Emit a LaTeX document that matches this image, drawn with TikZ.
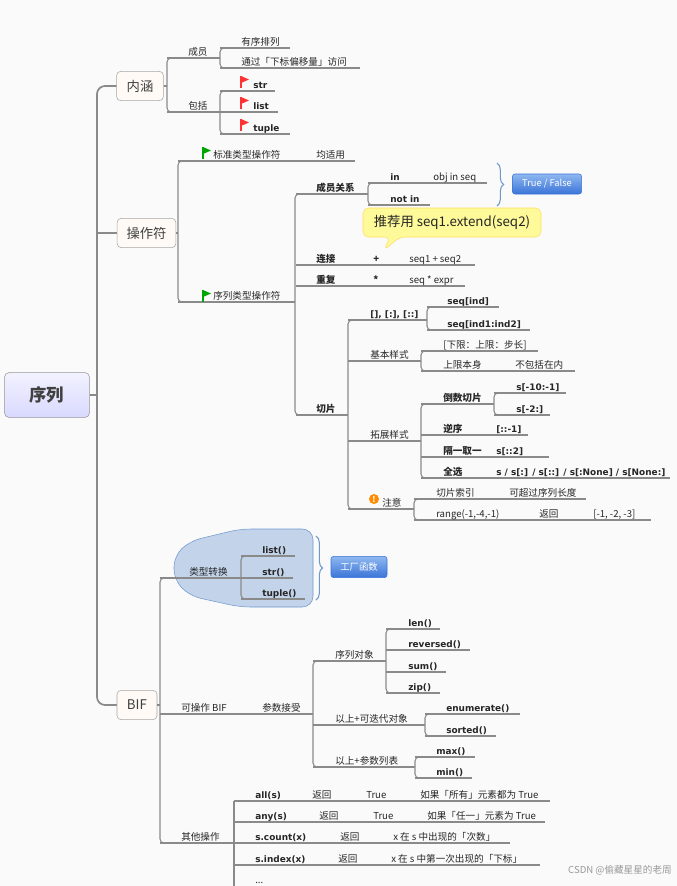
\documentclass[tikz,border=0pt]{standalone}
\usepackage{fontspec}
\setmainfont{Noto Sans CJK SC}
\newfontfamily\vb{DejaVu Sans}
\usetikzlibrary{decorations.pathreplacing,shapes.geometric}
\definecolor{ln}{HTML}{8A8A8A}
\definecolor{blobf}{HTML}{B9CDE8}
\definecolor{blobd}{HTML}{6F98CC}
\definecolor{bt1}{HTML}{8FB8F0}
\definecolor{bt2}{HTML}{3A74D8}
\tikzset{
 ln/.style={draw=ln,line width=0.8pt},
 txt/.style={inner sep=0pt,font=\fontsize{7.2}{8}\selectfont,text=black!85},
 bt/.style={txt,font=\fontsize{6.7}{8}\selectfont\vb\bfseries},
 mainbox/.style={draw=black!35,fill=orange!4,rounded corners=3pt,font=\fontsize{10}{12}\selectfont,text=black!75,minimum height=22pt,inner sep=0pt},
 bluebox/.style={rounded corners=2pt,top color=bt1,bottom color=bt2,draw=bt2,text=white,font=\fontsize{7}{8}\selectfont\itshape,inner sep=0pt},
}
\newcommand\lb[7][txt]{\draw[ln] (#3,#5) -- (#4,#5); \node[#1,anchor=base west] (#2) at (#6,#5-3) {#7};}
\newcommand\tx[5][txt]{\node[#1,anchor=base west] (#2) at (#3,#4-3) {#5};}
\newcommand\brk[3]{\draw[ln,rounded corners=3pt] (#1+6,#2) -- (#1,#2) -- (#1,#3) -- (#1+6,#3);}
\newcommand\flag[3]{\fill[#3] (#1,#2) -- (#1+8,#2+3.5) -- (#1,#2+7) -- cycle; \draw[#3,line width=0.8pt] (#1,#2) -- (#1,#2+12);}
\begin{document}
\begin{tikzpicture}[x=0.75pt,y=-0.75pt]
\useasboundingbox[fill=black!2] (0,0) rectangle (677,886);
% trunk
\draw[ln,line width=1.3pt,rounded corners=6pt] (117,86) -- (97,86) -- (97,705) -- (117,705);
\draw[ln,line width=1.3pt] (90,395) -- (97,395) (97,233) -- (117,233);
\node[draw=black!40,rounded corners=4pt,top color=blue!5,bottom color=blue!15,minimum width=64pt,minimum height=34pt,font=\fontsize{13}{14}\selectfont\bfseries,text=black!75] (root) at (47,395) {序列};
\node[mainbox,minimum width=35pt] (neihan) at (140,86) {内涵};
\node[mainbox,minimum width=44pt] (czf) at (146.5,233) {操作符};
\node[mainbox,minimum width=30pt] (bif) at (137,705) {BIF};
% 内涵
\draw[ln] (neihan.east) -- (167,86);
\brk{167}{58}{112}
\lb{cy}{167}{220}{58}{188}{成员}
\lb{bk}{167}{278}{112}{188}{包括}
\brk{220}{48}{68}
\lb{yx}{220}{290}{48}{241}{有序排列}
\lb{tg}{220}{360}{68}{241}{通过「下标偏移量」访问}
\brk{220}{91}{134}
\lb[bt]{str}{220}{275}{91}{253}{str}
\lb[bt]{list}{220}{278}{112}{253}{list}
\lb[bt]{tuple}{220}{290}{134}{253}{tuple}
\flag{241}{76}{red!80}\flag{241}{97}{red!80}\flag{241}{119}{red!80}
% 操作符
\draw[ln] (czf.east) -- (178,233);
\brk{178}{161}{302}
\lb{bz}{178}{355}{161}{213}{标准类型操作符}
\tx{jsy}{316}{161}{均适用}
\lb{xl}{178}{295}{302}{213}{序列类型操作符}
\flag{203}{147}{green!65!black}\flag{203}{290}{green!65!black}
\brk{295}{194}{415}
\lb{cygx}{296}{368}{194}{316}{\bfseries 成员关系}
\lb{lj}{296}{475}{265}{316}{\bfseries 连接}
\lb{cf}{296}{465}{286}{316}{\bfseries 重复}
\lb{qp}{296}{348}{415}{316}{\bfseries 切片}
\brk{368}{183}{205}
\lb[bt]{in}{368}{487}{183}{390}{in}
\tx{ois}{433}{183}{obj in seq}
\lb[bt]{notin}{368}{430}{205}{390}{not in}
\draw[blobd,line width=0.8pt,decorate,decoration={brace,amplitude=5pt}] (497,163) -- (497,206);
\node[bluebox,minimum width=52pt,minimum height=15pt] (tf) at (547,184) {True / False};
\tx{plus}{373}{265}{\bfseries +}
\tx{s12}{409}{265}{seq1 + seq2}
\tx{star}{373}{286}{\bfseries *}
\tx{sx}{409}{286}{seq * expr}
% callout
\draw[draw=yellow!60!orange!60,fill=yellow!40!white,rounded corners=4pt] (363,208) -- (541,208) -- (541,237) -- (400,237) -- (384,250) -- (390,237) -- (363,237) -- cycle;
\node[txt,font=\fontsize{10}{12}\selectfont] (tj) at (452,222) {推荐用 seq1.extend(seq2)};
% 切片
\brk{348}{320}{509}
\lb[bt]{kh}{348}{427}{320}{370}{[], [:], [::]}
\lb{jb}{348}{421}{361}{370}{基本样式}
\lb{tz}{348}{421}{441}{370}{拓展样式}
\lb{zy}{348}{414}{509}{382}{注意}
\fill[orange!90!yellow] (374,499) circle (5);
\node[text=white,font=\fontsize{6}{6}\selectfont\bfseries,inner sep=0pt] (ex) at (374,499.5) {!};
\brk{427}{307}{330}
\lb[bt]{si}{427}{499}{307}{447}{seq[ind]}
\lb[bt]{si2}{427}{530}{330}{447}{seq[ind1:ind2]}
\brk{421}{351}{371}
\lb{xx}{421}{538}{351}{443}{[下限：上限：步长]}
\lb{sx2}{421}{575}{371}{443}{上限本身}
\tx{bb}{515}{371}{不包括在内}
\brk{421}{404}{478}
\lb{ds}{421}{494}{404}{443}{\bfseries 倒数切片}
\lb{nx}{421}{528}{435}{443}{\bfseries 逆序}
\tx[bt]{nx2}{496}{435}{[::-1]}
\lb{gy}{421}{549}{457}{443}{\bfseries 隔一取一}
\tx[bt]{gy2}{496}{457}{s[::2]}
\lb{qx}{421}{670}{478}{443}{\bfseries 全选}
\tx[bt]{qx2}{496}{478}{s / s[:] / s[::] / s[:None] / s[None:]}
\brk{494}{393}{415}
\lb[bt]{s10}{494}{566}{393}{516}{s[-10:-1]}
\lb[bt]{s2}{494}{550}{415}{516}{s[-2:]}
\brk{414}{499}{520}
\lb{qpsy}{414}{586}{499}{436}{切片索引}
\tx{kcg}{509}{499}{可超过序列长度}
\lb{rg}{414}{651}{520}{436}{range(-1,-4,-1)}
\tx{fh0}{539}{520}{返回}
\tx{res}{593}{520}{[-1, -2, -3]}
% BIF
\draw[ln] (bif.east) -- (160,705);
\brk{160}{578}{843}
\draw[blobd,fill=blobf,fill opacity=0.85,rounded corners=8pt] (174,556) -- (190,541) -- (240,529) -- (313,529) -- (313,607) -- (240,607) -- (190,596) -- (174,580) -- cycle;
\lb{lxzh}{160}{293}{578}{189}{类型转换}
\brk{241}{556}{599}
\lb[bt]{lst}{241}{295}{556}{262}{list()}
\lb[bt]{st}{241}{293}{578}{262}{str()}
\lb[bt]{tp}{241}{305}{599}{262}{tuple()}
\draw[blobd,line width=0.8pt,decorate,decoration={brace,amplitude=5pt}] (316,536) -- (316,600);
\node[bluebox,minimum width=42pt,minimum height=16pt] (gc) at (359,567) {工厂函数};
\lb{kcz}{160}{313}{714}{181}{可操作 BIF}
\tx{csjs}{262}{714}{参数接受}
\brk{313}{661}{767}
\lb{xldx}{313}{386}{661}{335}{序列对象}
\lb{ysk}{313}{425}{725}{335}{以上+可迭代对象}
\lb{ysc}{313}{415}{767}{335}{以上+参数列表}
\brk{386}{629}{693}
\lb[bt]{len}{386}{440}{629}{408}{len()}
\lb[bt]{rev}{386}{470}{650}{408}{reversed()}
\lb[bt]{sum}{386}{446}{672}{408}{sum()}
\lb[bt]{zip}{386}{440}{693}{408}{zip()}
\brk{425}{714}{736}
\lb[bt]{enu}{425}{520}{714}{446}{enumerate()}
\lb[bt]{sor}{425}{496}{736}{446}{sorted()}
\brk{415}{757}{778}
\lb[bt]{max}{415}{475}{757}{436}{max()}
\lb[bt]{min}{415}{472}{778}{436}{min()}
\lb{qtcz}{160}{234}{843}{181}{其他操作}
\draw[ln] (234,801) -- (234,886);
\lb[bt]{all}{234}{550}{801}{255}{all(s)}
\tx{a1}{312}{801}{返回}\tx{a2}{366}{801}{True}\tx{a3}{420}{801}{如果「所有」元素都为 True}
\lb[bt]{any}{234}{545}{822}{255}{any(s)}
\tx{b1}{319}{822}{返回}\tx{b2}{373}{822}{True}\tx{b3}{427}{822}{如果「任一」元素为 True}
\lb[bt]{cnt}{234}{510}{843}{255}{s.count(x)}
\tx{c1}{340}{843}{返回}\tx{c2}{393}{843}{x 在 s 中出现的「次数」}
\lb[bt]{idx}{234}{540}{865}{255}{s.index(x)}
\tx{d1}{338}{865}{返回}\tx{d2}{391}{865}{x 在 s 中第一次出现的「下标」}
\tx{dots}{255}{886}{...}
\node[txt,text=black!40,anchor=base east] (wm) at (672,873) {CSDN @偷藏星星的老周};
\end{tikzpicture}
\end{document}
